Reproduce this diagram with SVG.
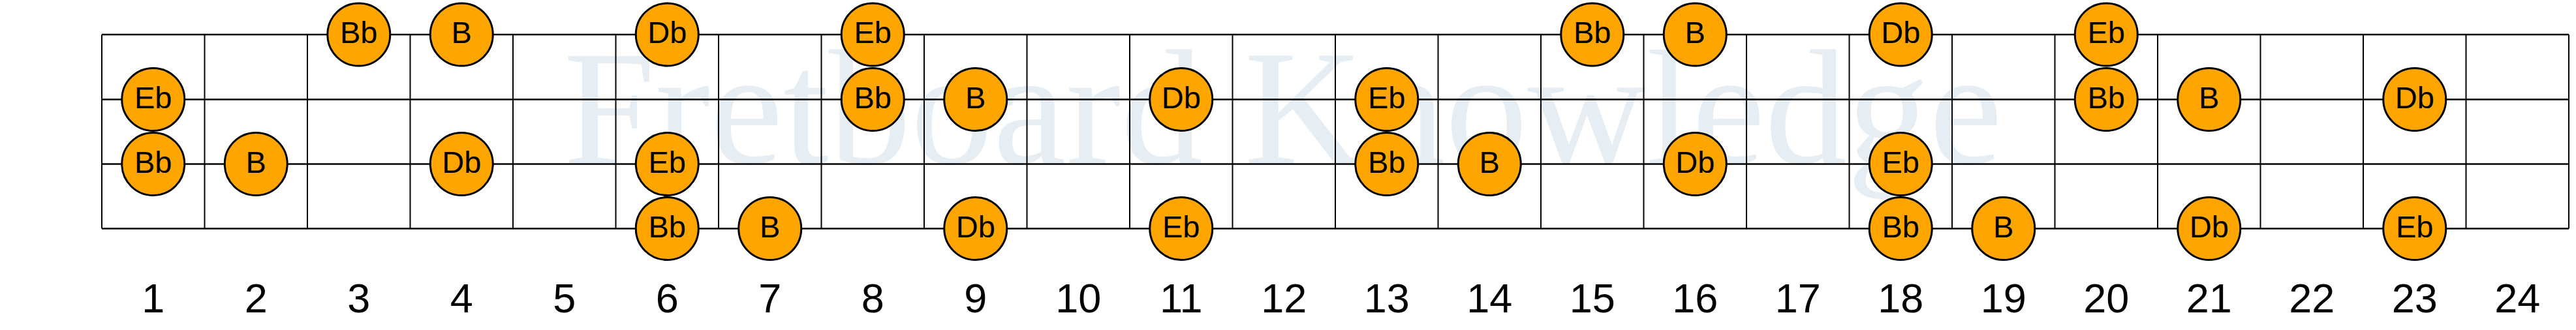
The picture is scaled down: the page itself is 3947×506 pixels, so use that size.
<svg xmlns="http://www.w3.org/2000/svg" width="3947" height="506" viewBox="0 0 3947 506">
<style>
.wm{font-family:"Liberation Serif","Times New Roman",serif;font-size:252px;fill:#E6EEF4;text-anchor:middle}
.str{stroke:#000;stroke-width:2.6}
.fret{stroke:#000;stroke-width:2}
.dot{fill:#FFA500;stroke:#000;stroke-width:3}
.nt{font-family:"Liberation Sans",Arial,sans-serif;font-size:47px;fill:#000;text-anchor:middle}
.num{font-family:"Liberation Sans",Arial,sans-serif;font-size:63px;fill:#000;text-anchor:middle}
</style>
<rect width="3947" height="506" fill="#fff"/>
<text class="wm" x="1966" y="251">Fretboard Knowledge</text>
<g id="strings">
<line class="str" x1="156" y1="53" x2="3936" y2="53"/>
<line class="str" x1="156" y1="152.5" x2="3936" y2="152.5"/>
<line class="str" x1="156" y1="251.5" x2="3936" y2="251.5"/>
<line class="str" x1="156" y1="350.5" x2="3936" y2="350.5"/>
</g>
<g id="frets">
<line class="fret" x1="156" y1="53" x2="156" y2="350.5"/>
<line class="fret" x1="313.5" y1="53" x2="313.5" y2="350.5"/>
<line class="fret" x1="471" y1="53" x2="471" y2="350.5"/>
<line class="fret" x1="628.5" y1="53" x2="628.5" y2="350.5"/>
<line class="fret" x1="786" y1="53" x2="786" y2="350.5"/>
<line class="fret" x1="943.5" y1="53" x2="943.5" y2="350.5"/>
<line class="fret" x1="1101" y1="53" x2="1101" y2="350.5"/>
<line class="fret" x1="1258.5" y1="53" x2="1258.5" y2="350.5"/>
<line class="fret" x1="1416" y1="53" x2="1416" y2="350.5"/>
<line class="fret" x1="1573.5" y1="53" x2="1573.5" y2="350.5"/>
<line class="fret" x1="1731" y1="53" x2="1731" y2="350.5"/>
<line class="fret" x1="1888.5" y1="53" x2="1888.5" y2="350.5"/>
<line class="fret" x1="2046" y1="53" x2="2046" y2="350.5"/>
<line class="fret" x1="2203.5" y1="53" x2="2203.5" y2="350.5"/>
<line class="fret" x1="2361" y1="53" x2="2361" y2="350.5"/>
<line class="fret" x1="2518.5" y1="53" x2="2518.5" y2="350.5"/>
<line class="fret" x1="2676" y1="53" x2="2676" y2="350.5"/>
<line class="fret" x1="2833.5" y1="53" x2="2833.5" y2="350.5"/>
<line class="fret" x1="2991" y1="53" x2="2991" y2="350.5"/>
<line class="fret" x1="3148.5" y1="53" x2="3148.5" y2="350.5"/>
<line class="fret" x1="3306" y1="53" x2="3306" y2="350.5"/>
<line class="fret" x1="3463.5" y1="53" x2="3463.5" y2="350.5"/>
<line class="fret" x1="3621" y1="53" x2="3621" y2="350.5"/>
<line class="fret" x1="3778.5" y1="53" x2="3778.5" y2="350.5"/>
<line class="fret" x1="3936" y1="53" x2="3936" y2="350.5"/>
</g>
<g id="fret-numbers">
<text class="num" x="234.75" y="479">1</text>
<text class="num" x="392.25" y="479">2</text>
<text class="num" x="549.75" y="479">3</text>
<text class="num" x="707.25" y="479">4</text>
<text class="num" x="864.75" y="479">5</text>
<text class="num" x="1022.25" y="479">6</text>
<text class="num" x="1179.75" y="479">7</text>
<text class="num" x="1337.25" y="479">8</text>
<text class="num" x="1494.75" y="479">9</text>
<text class="num" x="1652.25" y="479">10</text>
<text class="num" x="1809.75" y="479">11</text>
<text class="num" x="1967.25" y="479">12</text>
<text class="num" x="2124.75" y="479">13</text>
<text class="num" x="2282.25" y="479">14</text>
<text class="num" x="2439.75" y="479">15</text>
<text class="num" x="2597.25" y="479">16</text>
<text class="num" x="2754.75" y="479">17</text>
<text class="num" x="2912.25" y="479">18</text>
<text class="num" x="3069.75" y="479">19</text>
<text class="num" x="3227.25" y="479">20</text>
<text class="num" x="3384.75" y="479">21</text>
<text class="num" x="3542.25" y="479">22</text>
<text class="num" x="3699.75" y="479">23</text>
<text class="num" x="3857.25" y="479">24</text>
</g>
<g id="s1-f3"><circle class="dot" cx="549.75" cy="53" r="48"/><text class="nt" x="549.75" y="66">Bb</text></g>
<g id="s1-f4"><circle class="dot" cx="707.25" cy="53" r="48"/><text class="nt" x="707.25" y="66">B</text></g>
<g id="s1-f6"><circle class="dot" cx="1022.25" cy="53" r="48"/><text class="nt" x="1022.25" y="66">Db</text></g>
<g id="s1-f8"><circle class="dot" cx="1337.25" cy="53" r="48"/><text class="nt" x="1337.25" y="66">Eb</text></g>
<g id="s1-f15"><circle class="dot" cx="2439.75" cy="53" r="48"/><text class="nt" x="2439.75" y="66">Bb</text></g>
<g id="s1-f16"><circle class="dot" cx="2597.25" cy="53" r="48"/><text class="nt" x="2597.25" y="66">B</text></g>
<g id="s1-f18"><circle class="dot" cx="2912.25" cy="53" r="48"/><text class="nt" x="2912.25" y="66">Db</text></g>
<g id="s1-f20"><circle class="dot" cx="3227.25" cy="53" r="48"/><text class="nt" x="3227.25" y="66">Eb</text></g>
<g id="s2-f1"><circle class="dot" cx="234.75" cy="152.5" r="48"/><text class="nt" x="234.75" y="165.5">Eb</text></g>
<g id="s2-f8"><circle class="dot" cx="1337.25" cy="152.5" r="48"/><text class="nt" x="1337.25" y="165.5">Bb</text></g>
<g id="s2-f9"><circle class="dot" cx="1494.75" cy="152.5" r="48"/><text class="nt" x="1494.75" y="165.5">B</text></g>
<g id="s2-f11"><circle class="dot" cx="1809.75" cy="152.5" r="48"/><text class="nt" x="1809.75" y="165.5">Db</text></g>
<g id="s2-f13"><circle class="dot" cx="2124.75" cy="152.5" r="48"/><text class="nt" x="2124.75" y="165.5">Eb</text></g>
<g id="s2-f20"><circle class="dot" cx="3227.25" cy="152.5" r="48"/><text class="nt" x="3227.25" y="165.5">Bb</text></g>
<g id="s2-f21"><circle class="dot" cx="3384.75" cy="152.5" r="48"/><text class="nt" x="3384.75" y="165.5">B</text></g>
<g id="s2-f23"><circle class="dot" cx="3699.75" cy="152.5" r="48"/><text class="nt" x="3699.75" y="165.5">Db</text></g>
<g id="s3-f1"><circle class="dot" cx="234.75" cy="251.5" r="48"/><text class="nt" x="234.75" y="264.5">Bb</text></g>
<g id="s3-f2"><circle class="dot" cx="392.25" cy="251.5" r="48"/><text class="nt" x="392.25" y="264.5">B</text></g>
<g id="s3-f4"><circle class="dot" cx="707.25" cy="251.5" r="48"/><text class="nt" x="707.25" y="264.5">Db</text></g>
<g id="s3-f6"><circle class="dot" cx="1022.25" cy="251.5" r="48"/><text class="nt" x="1022.25" y="264.5">Eb</text></g>
<g id="s3-f13"><circle class="dot" cx="2124.75" cy="251.5" r="48"/><text class="nt" x="2124.75" y="264.5">Bb</text></g>
<g id="s3-f14"><circle class="dot" cx="2282.25" cy="251.5" r="48"/><text class="nt" x="2282.25" y="264.5">B</text></g>
<g id="s3-f16"><circle class="dot" cx="2597.25" cy="251.5" r="48"/><text class="nt" x="2597.25" y="264.5">Db</text></g>
<g id="s3-f18"><circle class="dot" cx="2912.25" cy="251.5" r="48"/><text class="nt" x="2912.25" y="264.5">Eb</text></g>
<g id="s4-f6"><circle class="dot" cx="1022.25" cy="350.5" r="48"/><text class="nt" x="1022.25" y="363.5">Bb</text></g>
<g id="s4-f7"><circle class="dot" cx="1179.75" cy="350.5" r="48"/><text class="nt" x="1179.75" y="363.5">B</text></g>
<g id="s4-f9"><circle class="dot" cx="1494.75" cy="350.5" r="48"/><text class="nt" x="1494.75" y="363.5">Db</text></g>
<g id="s4-f11"><circle class="dot" cx="1809.75" cy="350.5" r="48"/><text class="nt" x="1809.75" y="363.5">Eb</text></g>
<g id="s4-f18"><circle class="dot" cx="2912.25" cy="350.5" r="48"/><text class="nt" x="2912.25" y="363.5">Bb</text></g>
<g id="s4-f19"><circle class="dot" cx="3069.75" cy="350.5" r="48"/><text class="nt" x="3069.75" y="363.5">B</text></g>
<g id="s4-f21"><circle class="dot" cx="3384.75" cy="350.5" r="48"/><text class="nt" x="3384.75" y="363.5">Db</text></g>
<g id="s4-f23"><circle class="dot" cx="3699.75" cy="350.5" r="48"/><text class="nt" x="3699.75" y="363.5">Eb</text></g>
</svg>
